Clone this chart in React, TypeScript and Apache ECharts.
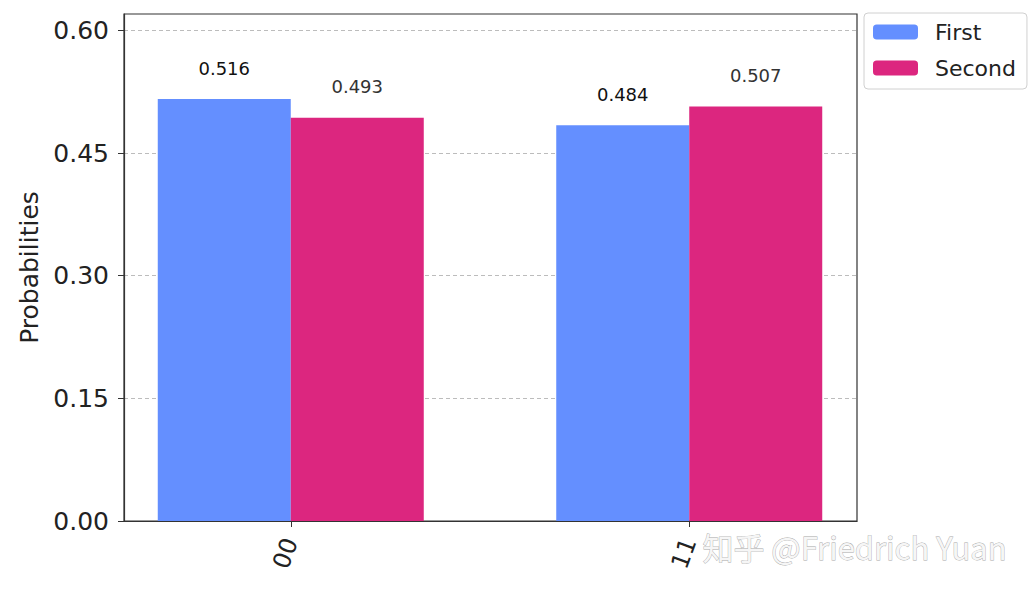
import React, { useEffect, useRef } from 'react';
import * as echarts from 'echarts';

// states (x axis) and probabilities
const states = ['00', '11'];
const firstValues = [0.516, 0.484];
const secondValues = [0.493, 0.507];
const yTicks = [0, 0.15, 0.3, 0.45, 0.6];

const FONT = '"DejaVu Sans", sans-serif';

const App: React.FC = () => {
  const chartRef: any = useRef();

  useEffect(() => {
    const chart = echarts.init(chartRef.current, null, { renderer: 'svg' });
    const barLabel = (color: string) => ({
      show: true,
      position: 'top',
      distance: 22,
      fontSize: 18,
      color,
      fontFamily: FONT,
      formatter: (p: any) => p.value[1].toFixed(3)
    });
    const option = {
      animation: false,
      textStyle: { fontFamily: FONT },
      grid: {
        left: 124,
        right: 179,
        top: 14,
        bottom: 74,
        show: true,
        borderColor: '#333',
        borderWidth: 1.2,
        backgroundColor: '#fff'
      },
      legend: {
        orient: 'vertical',
        left: 864,
        top: 13,
        padding: [8, 11, 10, 9],
        itemWidth: 45,
        itemHeight: 15,
        itemGap: 14,
        borderColor: '#d0d0d0',
        borderWidth: 1,
        borderRadius: 4,
        textStyle: { fontSize: 22, color: '#222', fontFamily: FONT, padding: [0, 0, 0, 12] },
        data: ['First', 'Second']
      },
      xAxis: {
        type: 'value',
        min: -0.4185,
        max: 1.421,
        splitLine: { show: false },
        axisLine: { show: true, onZero: false, lineStyle: { color: '#333', width: 1.2 } },
        axisTick: { show: true, customValues: [0, 1], length: 6, lineStyle: { color: '#333' } },
        axisLabel: {
          customValues: [0, 1],
          rotate: 70,
          fontSize: 24,
          color: '#222',
          margin: 18,
          formatter: (v: number) => states[Math.round(v)] ?? ''
        }
      },
      yAxis: {
        type: 'value',
        min: 0,
        max: 0.62,
        interval: 0.15,
        name: 'Probabilities',
        nameLocation: 'middle',
        nameRotate: 90,
        nameGap: 80,
        nameTextStyle: { fontSize: 25, color: '#222', fontFamily: FONT },
        axisLine: { show: true, onZero: false, lineStyle: { color: '#333', width: 1.2 } },
        axisTick: { show: true, customValues: yTicks, length: 6, lineStyle: { color: '#333' } },
        axisLabel: {
          customValues: yTicks,
          fontSize: 25,
          color: '#222',
          margin: 15,
          formatter: (v: number) => v.toFixed(2)
        },
        splitLine: {
          show: true,
          showMinLine: false,
          showMaxLine: true,
          lineStyle: { color: '#bcbcbc', type: [4, 3], width: 1 }
        }
      },
      series: [
        {
          name: 'First',
          type: 'bar',
          barWidth: 133,
          barGap: '0%',
          itemStyle: { color: '#648FFF' },
          label: barLabel('#111'),
          data: firstValues.map((v, i) => [i, v])
        },
        {
          name: 'Second',
          type: 'bar',
          barWidth: 133,
          barGap: '0%',
          itemStyle: { color: '#DC267F' },
          label: barLabel('#333'),
          data: secondValues.map((v, i) => [i, v])
        }
      ],
      graphic: [
        {
          type: 'text',
          left: 702,
          top: 531,
          style: {
            text: '知乎 @Friedrich Yuan',
            fontSize: 31,
            fontFamily: '"Noto Sans CJK SC", "DejaVu Sans", sans-serif',
            fill: '#f6f6f6',
            stroke: '#a8a8a8',
            lineWidth: 0.8
          }
        }
      ]
    };
    chart.setOption(option);
    return () => {
      chart.dispose();
    };
  }, []);

  return (
    <div
      ref={chartRef}
      style={{ position: 'fixed', left: 0, top: 0, width: 1036, height: 595, background: '#fff' }}
    ></div>
  );
};

export default App;
